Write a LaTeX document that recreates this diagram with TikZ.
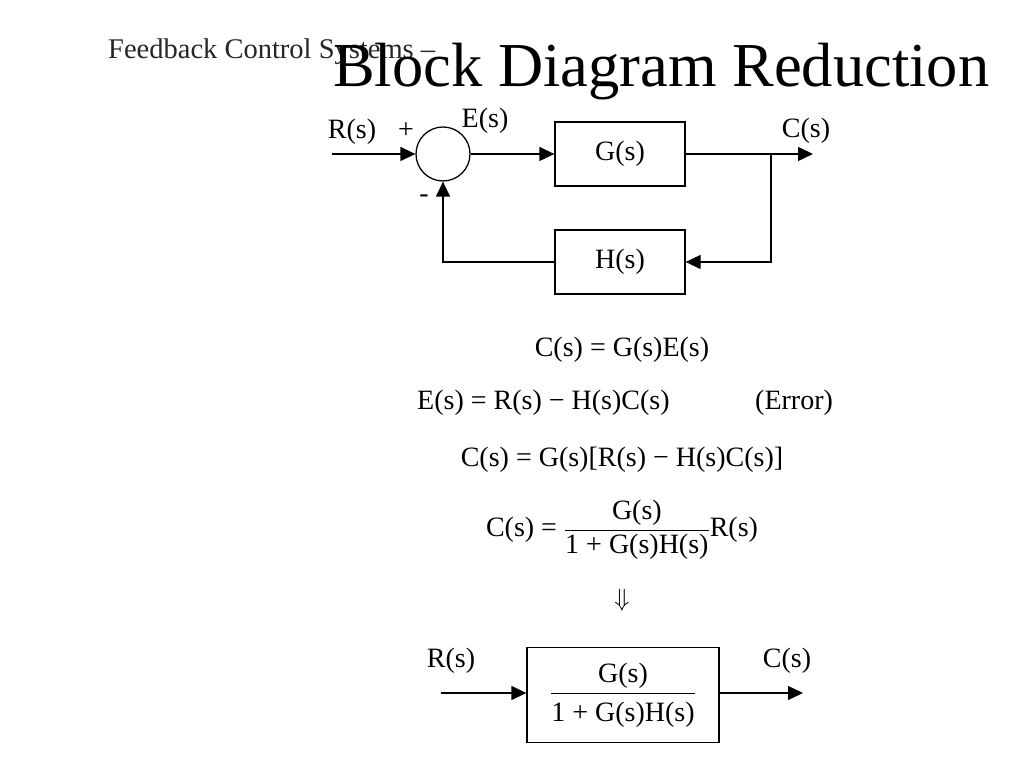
\documentclass[tikz,border=0pt]{standalone}
\usepackage{fontspec}
\setmainfont{Liberation Serif}
\usetikzlibrary{arrows.meta}

\tikzset{
  block/.style={draw, line width=1.3pt, minimum width=130pt, minimum height=64pt, inner sep=0pt},
  sumjunction/.style={draw, circle, line width=1.3pt, minimum size=54pt, inner sep=0pt},
  signal/.style={line width=1.3pt, -{Triangle[length=15pt,width=14pt]}},
  lbl/.style={inner sep=0pt},
}

\begin{document}
\begin{tikzpicture}[x=1pt, y=1pt, font=\fontsize{28}{32}\selectfont]
    \useasboundingbox (0,0) rectangle (1024,768);
    % heading
    \node[lbl, anchor=base west, font=\fontsize{28.5}{32}\selectfont, text=black!85] (subject) at (108,709) {Feedback Control Systems –};
    \node[lbl, anchor=base west, font=\fontsize{62.5}{70}\selectfont] (title) at (333,681) {Block Diagram Reduction};
    % closed loop
    \node[sumjunction] (sum) at (443,614) {};
    \node[block] (G) at (620,614) {G(s)};
    \node[block] (H) at (620,506) {H(s)};
    \coordinate (rin) at (332,614);
    \coordinate (branch) at (771,614);
    \coordinate (cout) at (813,614);
    \draw[signal] (rin) -- (sum);
    \draw[signal] (sum) -- (G);
    \draw[signal] (G) -- (cout);
    \draw[signal] (branch) |- (H);
    \draw[signal] (H) -| (sum);
    \node[lbl] (Rlbl) at (352,636) {R(s)};
    \node[lbl] (plus) at (406,637) {+};
    \node[lbl] (Elbl) at (485,647) {E(s)};
    \node[lbl] (Clbl) at (806,637) {C(s)};
    \node[lbl] (minus) at (424,569) {-};
    % equations
    \node[lbl] (eqa) at (622,418) {C(s) = G(s)E(s)};
    \node[lbl, anchor=west] (eqb) at (417,365) {E(s) = R(s) − H(s)C(s)};
    \node[lbl, anchor=west] (err) at (755,365) {(Error)};
    \node[lbl] (eqc) at (622,308) {C(s) = G(s)[R(s) − H(s)C(s)]};
    \node[lbl] (eqd) at (622,238) {C(s) = $\displaystyle\frac{\mbox{G(s)}}{\mbox{1 + G(s)H(s)}}$R(s)};
    \node[lbl] (implies) at (622,168) {$\Downarrow$};
    % reduced block
    \node[block, minimum width=192pt, minimum height=95pt] (T) at (623,73) {$\displaystyle\frac{\mbox{G(s)}}{\mbox{\rule{0pt}{27pt}1 + G(s)H(s)}}$};
    \coordinate (tin) at (441,75);
    \coordinate (tout) at (803,75);
    \draw[signal] (tin) -- (tin -| T.west);
    \draw[signal] (tout -| T.east) -- (tout);
    \node[lbl] (Rlbl2) at (451,107) {R(s)};
    \node[lbl] (Clbl2) at (787,107) {C(s)};
\end{tikzpicture}
\end{document}
